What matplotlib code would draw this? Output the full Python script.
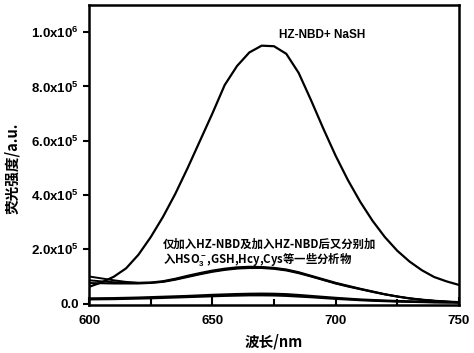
import matplotlib
matplotlib.use("Agg")
import matplotlib.pyplot as plt
from matplotlib.ticker import FixedLocator, MultipleLocator

plt.rcParams['font.family'] = ['Liberation Sans', 'Noto Sans CJK SC', 'DejaVu Sans']
plt.rcParams['mathtext.fontset'] = 'custom'
plt.rcParams['mathtext.rm'] = 'Liberation Sans:bold'
plt.rcParams['mathtext.it'] = 'Liberation Sans:bold'
plt.rcParams['mathtext.bf'] = 'Liberation Sans:bold'

wavelength = list(range(600, 751, 5))

# HZ-NBD + NaSH
nash = [6.2e4, 7.8e4, 9.9e4, 1.3e5, 1.8e5, 2.45e5, 3.2e5, 4.05e5, 5.0e5, 6.0e5,
        7.0e5, 8.05e5, 8.75e5, 9.25e5, 9.5e5, 9.48e5, 9.2e5, 8.5e5, 7.5e5, 6.45e5,
        5.45e5, 4.55e5, 3.75e5, 3.05e5, 2.45e5, 1.95e5, 1.55e5, 1.23e5, 9.8e4, 8.2e4, 6.9e4]

# HZ-NBD alone and with HSO3-, GSH, Hcy, Cys
others_mid = [
    [1.0e5, 9.3e4, 8.6e4, 8.0e4, 7.7e4, 7.8e4, 8.3e4, 9.2e4, 1.03e5, 1.13e5,
     1.22e5, 1.29e5, 1.34e5, 1.36e5, 1.35e5, 1.32e5, 1.26e5, 1.16e5, 1.03e5, 9.0e4,
     7.7e4, 6.6e4, 5.5e4, 4.5e4, 3.5e4, 2.7e4, 2.0e4, 1.5e4, 1.1e4, 8e3, 6e3],
    [7.6e4, 7.5e4, 7.4e4, 7.4e4, 7.4e4, 7.6e4, 8.0e4, 8.8e4, 9.8e4, 1.08e5,
     1.17e5, 1.24e5, 1.29e5, 1.31e5, 1.31e5, 1.28e5, 1.22e5, 1.12e5, 1.0e5, 8.7e4,
     7.4e4, 6.3e4, 5.3e4, 4.3e4, 3.4e4, 2.6e4, 1.9e4, 1.4e4, 1.0e4, 7e3, 5e3],
    [8.6e4, 8.2e4, 7.9e4, 7.7e4, 7.6e4, 7.7e4, 8.1e4, 9.0e4, 1.0e5, 1.1e5,
     1.19e5, 1.26e5, 1.31e5, 1.33e5, 1.33e5, 1.30e5, 1.24e5, 1.14e5, 1.01e5, 8.8e4,
     7.5e4, 6.4e4, 5.4e4, 4.4e4, 3.4e4, 2.6e4, 1.9e4, 1.4e4, 1.0e4, 7e3, 5e3],
]
others_low = [
    [1.9e4, 1.95e4, 2.0e4, 2.1e4, 2.2e4, 2.35e4, 2.5e4, 2.65e4, 2.8e4, 3.0e4,
     3.2e4, 3.35e4, 3.5e4, 3.6e4, 3.65e4, 3.6e4, 3.45e4, 3.15e4, 2.8e4, 2.45e4,
     2.1e4, 1.8e4, 1.5e4, 1.3e4, 1.1e4, 9.5e3, 8e3, 7e3, 6e3, 5.5e3, 5e3],
    [1.6e4, 1.65e4, 1.7e4, 1.8e4, 1.9e4, 2.0e4, 2.15e4, 2.3e4, 2.45e4, 2.6e4,
     2.75e4, 2.9e4, 3.0e4, 3.1e4, 3.1e4, 3.05e4, 2.9e4, 2.65e4, 2.4e4, 2.1e4,
     1.8e4, 1.55e4, 1.3e4, 1.1e4, 9.5e3, 8e3, 7e3, 6e3, 5e3, 4.5e3, 4e3],
]

y_ticks = [0, 2e5, 4e5, 6e5, 8e5, 1e6]
y_tick_labels = ['0.0', r'2.0x10$^5$', r'4.0x10$^5$', r'6.0x10$^5$', r'8.0x10$^5$', r'1.0x10$^6$']
x_ticks = [600, 650, 700, 750]

fig = plt.figure(figsize=(4.74, 3.53), dpi=100)
ax = fig.add_axes([0.188, 0.136, 0.780, 0.850])

ax.plot(wavelength, nash, color='black', lw=1.6)
for vals in others_mid:
    ax.plot(wavelength, vals, color='black', lw=1.4)
for vals in others_low:
    ax.plot(wavelength, vals, color='black', lw=1.7)

ax.set_xlim(600, 750)
ax.set_ylim(-5e3, 1.1e6)
ax.xaxis.set_major_locator(FixedLocator(x_ticks))
ax.xaxis.set_minor_locator(MultipleLocator(25))
ax.yaxis.set_major_locator(FixedLocator(y_ticks))
ax.set_yticklabels(y_tick_labels)

ax.tick_params(axis='x', which='major', direction='in', length=6, width=1.5, pad=7)
ax.tick_params(axis='x', which='minor', direction='in', length=4, width=1.5)
ax.tick_params(axis='y', which='major', direction='out', length=4, width=1.5)
ax.tick_params(labelsize=9.5)
for lab in ax.get_xticklabels() + ax.get_yticklabels():
    lab.set_fontweight('bold')
for sp in ax.spines.values():
    sp.set_linewidth(1.8)

cjk = ['Noto Sans CJK SC', 'DejaVu Sans']
ax.set_xlabel('波长/nm', family=cjk, fontsize=10.5, fontweight='bold')
ax.set_ylabel('荧光强度/a.u.', family=cjk, fontsize=10.5, fontweight='bold')
ax.xaxis.set_label_coords(0.5, -0.095)
ax.yaxis.set_label_coords(-0.188, 0.457)

ax.text(694.5, 9.9e5, 'HZ-NBD+ NaSH', ha='center', va='center', fontsize=8.5,
        fontweight='bold', family=['Liberation Sans', 'DejaVu Sans'])
ax.text(630, 2.2e5, '仅加入HZ-NBD及加入HZ-NBD后又分别加', ha='left', va='center',
        fontsize=8.2, fontweight='bold', family=cjk)
ax.text(630, 1.63e5, r'入HSO$_3^-$,GSH,Hcy,Cys等一些分析物', ha='left', va='center',
        fontsize=8.2, fontweight='bold', family=cjk)

fig.savefig('out.png', dpi=100)
